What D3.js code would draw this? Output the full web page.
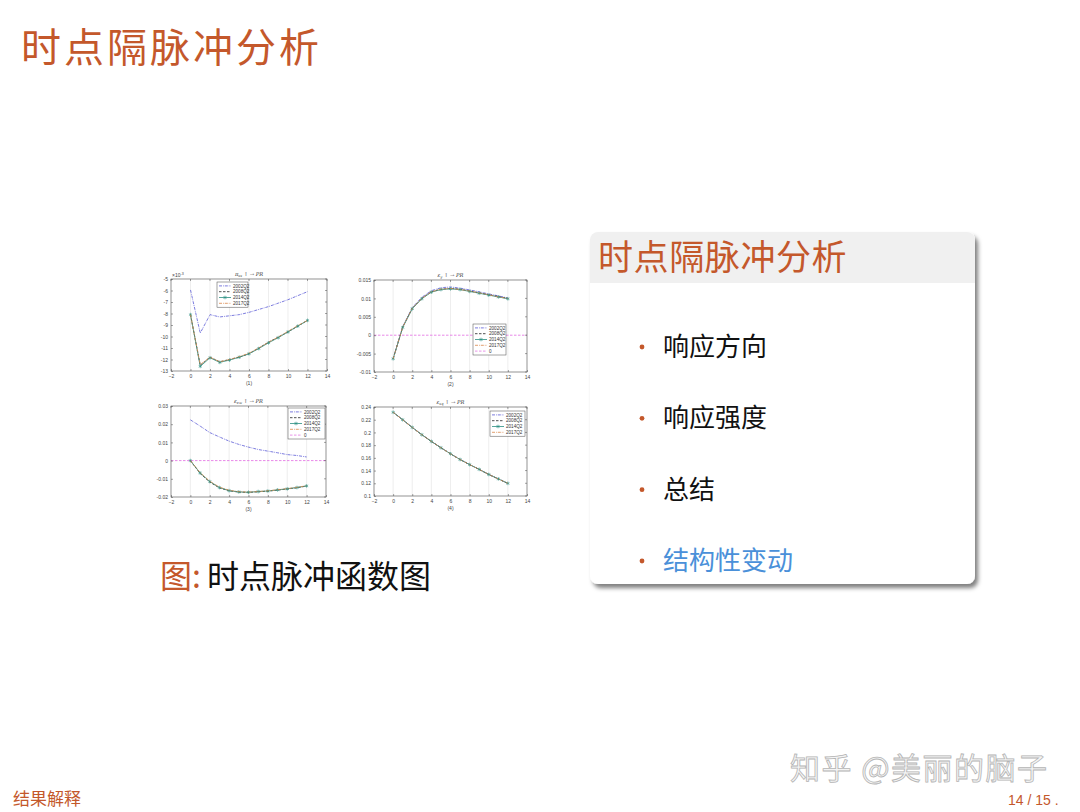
<!DOCTYPE html>
<html><head><meta charset="utf-8">
<script src="https://cdn.jsdelivr.net/npm/d3@7"></script>
<style>
html,body{margin:0;padding:0;background:#fff;}
svg{display:block;}
</style></head>
<body>
<svg id="c" width="1080" height="812"></svg>
<script>
// ---------- data ----------
const horizons = [0,1,2,3,4,5,6,7,8,9,10,11,12];
const seriesNames = ["2002Q2","2008Q2","2014Q2","2017Q2"];
const zeroName = "0";
const xTicks = [-2,0,2,4,6,8,10,12,14];

// panel 1 (values in units of 1e-3)
const p1_2002 = [-5.95,-9.7,-8.1,-8.3,-8.2,-8.1,-7.9,-7.65,-7.4,-7.1,-6.8,-6.45,-6.1];
const p1_2008 = [-8.1,-12.5,-11.8,-12.2,-12.0,-11.8,-11.5,-11.0,-10.5,-10.05,-9.6,-9.1,-8.6];
const p1_2014 = [-8.1,-12.6,-11.85,-12.25,-12.05,-11.8,-11.5,-11.05,-10.55,-10.1,-9.6,-9.1,-8.6];
const p1_2017 = [-8.1,-12.45,-11.8,-12.2,-12.0,-11.75,-11.45,-11.0,-10.5,-10.05,-9.55,-9.05,-8.6];
const p1_yTicks = [-13,-12,-11,-10,-9,-8,-7,-6,-5];

// panel 2
const p2_2002 = [-0.0064,0.0023,0.0075,0.0103,0.0121,0.0129,0.0131,0.0128,0.0123,0.0118,0.0112,0.0107,0.0101];
const p2_2008 = [-0.0064,0.0022,0.0073,0.0100,0.0118,0.0125,0.0127,0.0125,0.0120,0.0115,0.0110,0.0105,0.0100];
const p2_2014 = [-0.0064,0.0021,0.0072,0.0099,0.0117,0.0124,0.0126,0.0124,0.0119,0.0114,0.0109,0.0104,0.0099];
const p2_2017 = [-0.0064,0.0022,0.0073,0.0100,0.0118,0.0125,0.0127,0.0124,0.0120,0.0115,0.0110,0.0104,0.0100];
const p2_yTicks = [-0.01,-0.005,0,0.005,0.01,0.015];
const p2_yLabels = ["-0.01","-0.005","0","0.005","0.01","0.015"];

// panel 3
const p3_2002 = [0.0224,0.0190,0.0154,0.0130,0.0107,0.0089,0.0074,0.0061,0.0052,0.0043,0.0033,0.0028,0.0020];
const p3_2008 = [0.0000,-0.0070,-0.0118,-0.0150,-0.0166,-0.0173,-0.0175,-0.0171,-0.0168,-0.0162,-0.0156,-0.0149,-0.0140];
const p3_2014 = [0.0000,-0.0068,-0.0115,-0.0148,-0.0165,-0.0172,-0.0174,-0.0170,-0.0167,-0.0161,-0.0155,-0.0148,-0.0139];
const p3_2017 = [0.0000,-0.0066,-0.0113,-0.0146,-0.0163,-0.0171,-0.0173,-0.0170,-0.0166,-0.0160,-0.0154,-0.0147,-0.0138];
const p3_yTicks = [-0.02,-0.01,0,0.01,0.02,0.03];
const p3_yLabels = ["-0.02","-0.01","0","0.01","0.02","0.03"];

// panel 4
const p4_2002 = [0.2317,0.2200,0.2080,0.1965,0.1860,0.1760,0.1665,0.1575,0.1495,0.1420,0.1340,0.1270,0.1200];
const p4_2008 = [0.2317,0.2198,0.2078,0.1963,0.1858,0.1758,0.1663,0.1573,0.1493,0.1418,0.1338,0.1268,0.1198];
const p4_2014 = [0.2317,0.2199,0.2079,0.1964,0.1859,0.1759,0.1664,0.1574,0.1494,0.1419,0.1339,0.1269,0.1199];
const p4_2017 = [0.2317,0.2199,0.2079,0.1964,0.1859,0.1759,0.1664,0.1574,0.1494,0.1419,0.1339,0.1269,0.1199];
const p4_yTicks = [0.1,0.12,0.14,0.16,0.18,0.2,0.22,0.24];
const p4_yLabels = ["0.1","0.12","0.14","0.16","0.18","0.2","0.22","0.24"];

const bulletItems = ["响应方向","响应强度","总结","结构性变动"];

// ---------- styles ----------
const ORANGE = "#c4582b";
const seriesStyle = {
  "2002Q2": {color:"#5b5bd6", dash:"3,1,0.8,1", marker:false, w:0.8},
  "2008Q2": {color:"#222222", dash:"2.5,1.5", marker:false, w:0.8},
  "2014Q2": {color:"#2a8f82", dash:null, marker:true, w:0.8},
  "2017Q2": {color:"#d9884a", dash:"3,1,0.8,1", marker:false, w:0.8},
  "0": {color:"#e57ae5", dash:"2.5,1.5", marker:false, w:0.8}
};

const svg = d3.select("#c");
svg.append("rect").attr("width",1080).attr("height",812).attr("fill","#fff");

const defs = svg.append("defs");
const f = defs.append("filter").attr("id","sh").attr("x","-5%").attr("y","-5%").attr("width","115%").attr("height","115%");
f.append("feDropShadow").attr("dx",3).attr("dy",4).attr("stdDeviation",2.2).attr("flood-color","#000").attr("flood-opacity",0.5);

// ---------- slide title ----------
svg.append("text").attr("x",21).attr("y",62)
  .attr("font-family","'Noto Sans CJK SC'").attr("font-size",40).attr("letter-spacing",3)
  .attr("fill",ORANGE).text("时点隔脉冲分析");

// ---------- panels ----------
function drawPanel(p){
  const g = svg.append("g");
  const x = d3.scaleLinear().domain([-2,14]).range([p.left,p.right]);
  const y = d3.scaleLinear().domain([p.yTicks[0],p.yTicks[p.yTicks.length-1]]).range([p.bottom,p.top]);
  g.selectAll(".vg").data(xTicks.slice(1,-1)).enter().append("line")
    .attr("x1",d=>x(d)).attr("x2",d=>x(d)).attr("y1",p.top).attr("y2",p.bottom)
    .attr("stroke","#e2e2e2").attr("stroke-width",0.6);
  if(p.zero){
    g.append("line").attr("x1",x(-2)).attr("x2",x(14)).attr("y1",y(0)).attr("y2",y(0))
      .attr("stroke",seriesStyle["0"].color).attr("stroke-width",0.9).attr("stroke-dasharray","2.5,1.5");
  }
  const line = d3.line().x((d,i)=>x(horizons[i])).y(d=>y(d));
  p.series.forEach((s,k)=>{
    const st = seriesStyle[seriesNames[k]];
    g.append("path").attr("d",line(s)).attr("fill","none").attr("stroke",st.color)
      .attr("stroke-width",st.w).attr("stroke-dasharray",st.dash);
    if(st.marker){
      g.selectAll(null).data(s).enter().append("path")
        .attr("transform",(d,i)=>`translate(${x(horizons[i])},${y(d)})`)
        .attr("d",d3.symbol(d3.symbolAsterisk,9)).attr("fill","none").attr("stroke",st.color).attr("stroke-width",0.6);
    }
  });
  g.append("rect").attr("x",p.left).attr("y",p.top).attr("width",p.right-p.left).attr("height",p.bottom-p.top)
    .attr("fill","none").attr("stroke","#4a4a4a").attr("stroke-width",0.6);
  const xa = d3.axisBottom(x).tickValues(xTicks).tickSizeInner(-2).tickSizeOuter(0).tickPadding(3);
  const xg = g.append("g").attr("transform",`translate(0,${p.bottom})`).call(xa);
  const ya = d3.axisLeft(y).tickValues(p.yTicks).tickSizeInner(-2).tickSizeOuter(0).tickPadding(3)
    .tickFormat((d,i)=>p.yLabels[i]);
  const yg = g.append("g").attr("transform",`translate(${p.left},0)`).call(ya);
  [xg,yg].forEach(a=>{
    a.select(".domain").remove();
    a.selectAll("line").attr("stroke","#4a4a4a").attr("stroke-width",0.5);
    a.selectAll("text").attr("font-family","'Liberation Sans'").attr("font-size",5).attr("fill","#444");
  });
  g.selectAll(null).data(xTicks).enter().append("line")
    .attr("x1",d=>x(d)).attr("x2",d=>x(d)).attr("y1",p.top).attr("y2",p.top+2).attr("stroke","#4a4a4a").attr("stroke-width",0.5);
  g.selectAll(null).data(p.yTicks).enter().append("line")
    .attr("x1",p.right).attr("x2",p.right-2).attr("y1",d=>y(d)).attr("y2",d=>y(d)).attr("stroke","#4a4a4a").attr("stroke-width",0.5);
  if(p.exp){
    const t = g.append("text").attr("x",p.left+1).attr("y",p.top-2)
      .attr("font-family","'Liberation Sans'").attr("font-size",5).attr("fill","#444");
    t.append("tspan").text("×10");
    t.append("tspan").attr("dy",-2).attr("font-size",3.6).text("-3");
  }
  const tt = g.append("text").attr("x",(p.left+p.right)/2).attr("y",p.top-3).attr("text-anchor","middle")
    .attr("font-family","'DejaVu Serif'").attr("font-style","italic").attr("font-size",5.2).attr("fill","#333");
  tt.append("tspan").text(p.title[0]);
  tt.append("tspan").attr("dy",1.2).attr("font-size",3.6).text(p.title[1]);
  tt.append("tspan").attr("dy",-1.2).text(" ↑ → PR");
  g.append("text").attr("x",(p.left+p.right)/2).attr("y",p.bottom+14).attr("text-anchor","middle")
    .attr("font-family","'Liberation Sans'").attr("font-size",5).attr("fill","#444").text(p.xlabel);
  const names = p.zero ? seriesNames.concat([zeroName]) : seriesNames;
  const lh = 5.8;
  const L = g.append("g").attr("transform",`translate(${p.leg[0]},${p.leg[1]})`);
  L.append("rect").attr("width",p.leg[2]).attr("height",names.length*lh+2).attr("fill","#fff")
    .attr("stroke","#4a4a4a").attr("stroke-width",0.5);
  names.forEach((n,i)=>{
    const st = seriesStyle[n]; const cy = 1+lh*(i+0.5);
    L.append("line").attr("x1",2).attr("x2",14).attr("y1",cy).attr("y2",cy).attr("stroke",st.color)
      .attr("stroke-width",0.8).attr("stroke-dasharray",st.dash);
    if(st.marker) L.append("path").attr("transform",`translate(8,${cy})`).attr("d",d3.symbol(d3.symbolAsterisk,9))
      .attr("fill","none").attr("stroke",st.color).attr("stroke-width",0.6);
    L.append("text").attr("x",16).attr("y",cy+1.7).attr("font-family","'Liberation Sans'")
      .attr("font-size",4.6).attr("fill","#333").text(n);
  });
}

drawPanel({left:171,right:327,top:279,bottom:371,yTicks:p1_yTicks,yLabels:p1_yTicks.map(String),
  series:[p1_2002,p1_2008,p1_2014,p1_2017],zero:false,exp:true,title:["π","ss"],xlabel:"(1)",leg:[217,282,31]});
drawPanel({left:374,right:527,top:280,bottom:372,yTicks:p2_yTicks,yLabels:p2_yLabels,
  series:[p2_2002,p2_2008,p2_2014,p2_2017],zero:true,exp:false,title:["ε","y"],xlabel:"(2)",leg:[473,324,33]});
drawPanel({left:171,right:326,top:406,bottom:497,yTicks:p3_yTicks,yLabels:p3_yLabels,
  series:[p3_2002,p3_2008,p3_2014,p3_2017],zero:true,exp:false,title:["ε","ew"],xlabel:"(3)",leg:[288,408,37]});
drawPanel({left:374,right:527,top:407,bottom:496,yTicks:p4_yTicks,yLabels:p4_yLabels,
  series:[p4_2002,p4_2008,p4_2014,p4_2017],zero:false,exp:false,title:["ε","sq"],xlabel:"(4)",leg:[490,411,35]});

// caption
const cap = svg.append("text").attr("x",160).attr("y",588).attr("font-family","'Noto Sans CJK SC'").attr("font-size",32);
cap.append("tspan").attr("fill",ORANGE).text("图:");
cap.append("tspan").attr("fill","#111").attr("dx",6).text("时点脉冲函数图");

// ---------- right block ----------
const B = {x:590,y:232,w:385,h:352};
svg.append("rect").attr("x",B.x).attr("y",B.y).attr("width",B.w).attr("height",B.h).attr("rx",8)
  .attr("fill","#fff").attr("filter","url(#sh)");
const hdrClip = defs.append("clipPath").attr("id","hc");
hdrClip.append("rect").attr("x",B.x).attr("y",B.y).attr("width",B.w).attr("height",B.h).attr("rx",8);
svg.append("rect").attr("x",B.x).attr("y",B.y).attr("width",B.w).attr("height",51)
  .attr("fill","#f0f0f0").attr("clip-path","url(#hc)");
svg.append("text").attr("x",598).attr("y",270).attr("font-family","'Noto Sans CJK SC'").attr("font-size",35)
  .attr("letter-spacing",0.6).attr("fill",ORANGE).text("时点隔脉冲分析");

const by = d3.scalePoint().domain(bulletItems).range([347,561]);
bulletItems.forEach((t,i)=>{
  svg.append("circle").attr("cx",642).attr("cy",by(t)).attr("r",2.4).attr("fill",ORANGE);
  svg.append("text").attr("x",663).attr("y",by(t)+9).attr("font-family","'Noto Sans CJK SC'").attr("font-size",26)
    .attr("fill", i===3 ? "#4a90d9" : "#111").text(t);
});

// ---------- footer ----------
svg.append("text").attr("x",790).attr("y",779).attr("font-family","'Noto Sans CJK SC'").attr("font-size",30)
  .attr("letter-spacing",1.5)
  .attr("fill","#f4f4f4").attr("stroke","#b4b4b4").attr("stroke-width",0.8).text("知乎 @美丽的脑子");
svg.append("text").attr("x",13).attr("y",805).attr("font-family","'Noto Sans CJK SC'").attr("font-size",17)
  .attr("fill",ORANGE).text("结果解释");
svg.append("text").attr("x",1008).attr("y",805).attr("font-family","'Liberation Sans'").attr("font-size",14)
  .attr("fill",ORANGE).text("14 / 15 .");
</script>
</body></html>
